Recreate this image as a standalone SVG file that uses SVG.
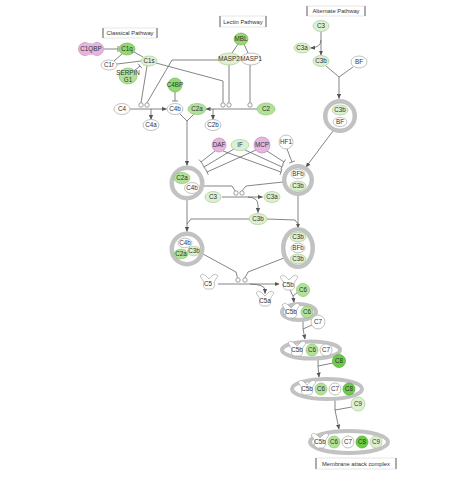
<svg xmlns="http://www.w3.org/2000/svg" width="474" height="477" viewBox="0 0 474 477">
<style>
text{font-family:"Liberation Sans",Arial,sans-serif;font-size:6.3px;fill:#333;text-anchor:middle}
.t{font-size:5.8px}
.ln{stroke:#666;stroke-width:0.8;fill:none}
.ar{stroke:#666;stroke-width:0.8;fill:none;marker-end:url(#ah)}
.cat{fill:#fff;stroke:#777;stroke-width:0.7}
.wh{fill:#fff;stroke:#a8a8a8;stroke-width:0.7}
.g1{fill:#93d870;stroke:#74bc52;stroke-width:0.7}
.g2{fill:#ddf0d3;stroke:#a6cf94;stroke-width:0.7}
.g3{fill:#b2e29a;stroke:#8ac66f;stroke-width:0.7}
.g4{fill:#6ccb47;stroke:#52a934;stroke-width:0.7}
.pk{fill:#e7b6dd;stroke:#c98bbb;stroke-width:0.7}
.ring{fill:#fff;stroke:#c2c2c2;stroke-width:4}
.ringi{fill:none;stroke:#a9a9a9;stroke-width:0.5}
.box{fill:#fff;stroke:#cfcfcf;stroke-width:0.5}
.brk{stroke:#555;stroke-width:0.9}
</style>
<defs>
<marker id="ah" markerWidth="5" markerHeight="5" refX="4.5" refY="2.5" orient="auto" markerUnits="userSpaceOnUse">
<path d="M0,0.4 L5,2.5 L0,4.6 Z" fill="#555"/>
</marker>
<path id="vs" d="M-9,-6 Q-7,-9 -4,-7 L0,-3 L4,-7 Q7,-9 9,-6 L5,0 Q7,5 3,7 L-3,7 Q-7,5 -5,0 Z" fill="#fff" stroke="#a8a8a8" stroke-width="0.7"/>
</defs>

<g id="titles">
<rect class="box" x="103" y="28" width="54" height="10"/><line class="brk" x1="103" y1="28" x2="103" y2="38"/><line class="brk" x1="157" y1="28" x2="157" y2="38"/>
<text class="t" x="130" y="35">Classical Pathway</text>
<rect class="box" x="220" y="16" width="46" height="11"/><line class="brk" x1="220" y1="16" x2="220" y2="27"/><line class="brk" x1="266" y1="16" x2="266" y2="27"/>
<text class="t" x="243" y="23.5">Lectin Pathway</text>
<rect class="box" x="307" y="6" width="58" height="10"/><line class="brk" x1="307" y1="6" x2="307" y2="16"/><line class="brk" x1="365" y1="6" x2="365" y2="16"/>
<text class="t" x="336" y="13">Alternate Pathway</text>
<rect class="box" x="316" y="458" width="80" height="11"/><line class="brk" x1="316" y1="458" x2="316" y2="469"/><line class="brk" x1="396" y1="458" x2="396" y2="469"/>
<text class="t" x="356" y="465.5">Membrane attack complex</text>
</g>

<g id="connectors">
<line class="ln" x1="104" y1="49" x2="118" y2="49"/><line class="ln" x1="118" y1="46" x2="118" y2="52"/>
<line class="ln" x1="134" y1="52" x2="143" y2="57"/>
<line class="ln" x1="122" y1="54" x2="114" y2="61"/>
<line class="ln" x1="117" y1="64" x2="141" y2="61"/>
<line class="ln" x1="134" y1="71" x2="140" y2="66"/><line class="ln" x1="138.1" y1="63.7" x2="141.9" y2="68.3"/>
<line class="ln" x1="147" y1="66" x2="141" y2="102.8"/>
<polyline class="ln" points="218,60 172,60 147,102.8"/>
<polyline class="ln" points="156,63 223,81 223,102.8"/>
<line class="ln" x1="229" y1="65" x2="229" y2="102.8"/>
<line class="ln" x1="250" y1="65" x2="250" y2="102.8"/>
<line class="ln" x1="238" y1="44" x2="232" y2="53"/>
<line class="ln" x1="244" y1="44" x2="248" y2="53"/>
<line class="ar" x1="130" y1="109" x2="166.5" y2="109"/>
<line class="ar" x1="151" y1="109" x2="151" y2="119.5"/>
<line class="ar" x1="257" y1="109" x2="206" y2="109"/>
<line class="ar" x1="213" y1="109" x2="213" y2="119.5"/>
<line class="ln" x1="175" y1="92" x2="175" y2="101"/><line class="ln" x1="172" y1="101" x2="178" y2="101"/>
<polyline class="ln" points="180,114 187,121 194,114"/>
<line class="ar" x1="187" y1="121" x2="187" y2="165.5"/>
<line class="ar" x1="321" y1="31.5" x2="321" y2="55"/>
<path class="ar" d="M321,40 Q321,47.5 310.5,48"/>
<polyline class="ln" points="326,66 339,77 353,67"/>
<line class="ar" x1="339" y1="77" x2="339" y2="98.5"/>
<line class="ar" x1="333" y1="131" x2="306" y2="167"/>
<line class="ln" x1="287" y1="149" x2="292" y2="162"/><line class="ln" x1="289.2" y1="163.1" x2="294.8" y2="160.9"/>
<line class="ln" x1="215" y1="151" x2="201" y2="162"/><line class="ln" x1="199.1" y1="159.6" x2="202.9" y2="164.4"/>
<line class="ln" x1="234" y1="149" x2="204" y2="167"/><line class="ln" x1="202.5" y1="164.4" x2="205.5" y2="169.6"/>
<line class="ln" x1="256" y1="150" x2="207" y2="172"/><line class="ln" x1="205.8" y1="169.3" x2="208.2" y2="174.7"/>
<line class="ln" x1="223" y1="151" x2="281" y2="172"/><line class="ln" x1="282" y1="169.2" x2="280" y2="174.8"/>
<line class="ln" x1="245" y1="150" x2="282" y2="167"/><line class="ln" x1="283.3" y1="164.3" x2="280.7" y2="169.7"/>
<line class="ln" x1="267" y1="151" x2="284" y2="162"/><line class="ln" x1="285.6" y1="159.5" x2="282.4" y2="164.5"/>
<polyline class="ln" points="204,186 232,186 235,190.8"/>
<polyline class="ln" points="283,182 246,186 242,190.8"/>
<line class="ar" x1="222" y1="197" x2="262.5" y2="197"/>
<path class="ar" d="M248,197 Q258,197.5 258,205 L258,212.5"/>
<line class="ar" x1="187" y1="200" x2="187" y2="231.5"/>
<polyline class="ln" points="249,219 191,219 187,224"/>
<line class="ar" x1="298" y1="195" x2="298" y2="228"/>
<polyline class="ln" points="267,219 295,220 298,224"/>
<polyline class="ln" points="203,254 236,272 237.5,277.8"/>
<polyline class="ln" points="284,258 248,272 245,277.8"/>
<line class="ar" x1="218" y1="284" x2="279" y2="284"/>
<path class="ar" d="M250,284 Q265,284.5 265,290 L265,293.5"/>
<polyline class="ln" points="290,290 293,296 298,292"/>
<line class="ar" x1="293" y1="296" x2="294" y2="302.5"/>
<line class="ln" x1="303" y1="321" x2="303" y2="329"/>
<line class="ln" x1="312" y1="325" x2="303" y2="329"/>
<line class="ar" x1="303" y1="329" x2="305" y2="339"/>
<line class="ln" x1="318" y1="360" x2="318" y2="366"/>
<line class="ln" x1="333" y1="363" x2="318" y2="366"/>
<line class="ar" x1="318" y1="366" x2="319" y2="377"/>
<line class="ln" x1="335" y1="400" x2="335" y2="410"/>
<line class="ln" x1="352" y1="407" x2="335" y2="410"/>
<line class="ar" x1="335" y1="410" x2="339" y2="429"/>
<circle class="cat" cx="141" cy="105" r="2.2"/>
<circle class="cat" cx="147" cy="105" r="2.2"/>
<circle class="cat" cx="223" cy="105" r="2.2"/>
<circle class="cat" cx="229" cy="105" r="2.2"/>
<circle class="cat" cx="250" cy="105" r="2.2"/>
<circle class="cat" cx="236" cy="193" r="2.2"/>
<circle class="cat" cx="242" cy="193" r="2.2"/>
<circle class="cat" cx="238" cy="280" r="2.2"/>
<circle class="cat" cx="245" cy="280" r="2.2"/>
</g>

<g id="C1QBP"><circle class="pk" cx="85" cy="49" r="6.5"/><circle class="pk" cx="97" cy="49" r="6.5"/><rect x="85" y="43.2" width="12" height="11.6" fill="#e7b6dd"/><text x="91" y="51.2">C1QBP</text></g>
<g id="C1q"><ellipse class="g1" cx="127" cy="49" rx="8" ry="6"/><text x="127" y="51.2">C1q</text></g>
<g id="C1r"><ellipse class="wh" cx="109" cy="65" rx="8" ry="5"/><text x="109" y="67.2">C1r</text></g>
<g id="C1s"><ellipse class="g2" cx="149" cy="61" rx="8" ry="5"/><text x="149" y="63.2">C1s</text></g>
<g id="SERPING1"><ellipse class="g3" cx="128" cy="76" rx="9" ry="8"/><text x="128" y="74.5">SERPIN</text><text x="128" y="81.5">G1</text></g>
<g id="C4BP"><circle class="g1" cx="175" cy="85" r="7"/><text x="175" y="87.2">C4BP</text></g>
<g id="C4"><ellipse class="wh" cx="122" cy="109" rx="8" ry="5.5"/><text x="122" y="111.2">C4</text></g>
<g id="C4b"><ellipse class="wh" cx="175" cy="109" rx="8" ry="5.5"/><text x="175" y="111.2">C4b</text></g>
<g id="C2a"><ellipse class="g3" cx="197" cy="109" rx="9" ry="5.5"/><text x="197" y="111.2">C2a</text></g>
<g id="C2"><ellipse class="g3" cx="266" cy="109" rx="9" ry="6"/><text x="266" y="111.2">C2</text></g>
<g id="C4a"><ellipse class="wh" cx="151" cy="125" rx="8" ry="5.5"/><text x="151" y="127.2">C4a</text></g>
<g id="C2b"><ellipse class="wh" cx="213" cy="125" rx="8" ry="5.5"/><text x="213" y="127.2">C2b</text></g>
<g id="MBL"><ellipse class="g1" cx="241" cy="39" rx="7" ry="6"/><text x="241" y="41.2">MBL</text></g>
<g id="MASP"><ellipse class="wh" cx="251" cy="59" rx="10" ry="6"/><ellipse class="g2" cx="229" cy="59" rx="11" ry="6"/><text x="229" y="61.2">MASP2</text><text x="251" y="61.2">MASP1</text></g>
<g id="C3top"><ellipse class="g2" cx="321" cy="26" rx="8" ry="5.5"/><text x="321" y="28.2">C3</text></g>
<g id="C3a_top"><ellipse class="g2" cx="302" cy="48" rx="8" ry="5"/><text x="302" y="50.2">C3a</text></g>
<g id="C3b_top"><ellipse class="g2" cx="321" cy="61" rx="8" ry="5.5"/><text x="321" y="63.2">C3b</text></g>
<g id="BF"><ellipse class="wh" cx="359" cy="62" rx="8" ry="6"/><text x="359" y="64.2">BF</text></g>
<g id="C3bBF"><circle class="ring" cx="340" cy="116" r="15"/><circle class="ringi" cx="340" cy="116" r="13"/><ellipse class="g2" cx="340" cy="110" rx="8" ry="5"/><text x="340" y="112.2">C3b</text><ellipse class="wh" cx="340" cy="122" rx="7" ry="4.5"/><text x="340" y="124.2">BF</text></g>
<g id="DAF"><circle class="pk" cx="219" cy="145" r="7"/><text x="219" y="147.2">DAF</text></g>
<g id="IF"><ellipse class="g2" cx="240" cy="145" rx="9" ry="5.5"/><text x="240" y="147.2">IF</text></g>
<g id="MCP"><circle class="pk" cx="262" cy="145" r="8"/><text x="262" y="147.2">MCP</text></g>
<g id="HF1"><circle class="wh" cx="286" cy="142" r="7"/><text x="286" y="144.2">HF1</text></g>
<g id="C2aC4b"><circle class="ring" cx="187" cy="183" r="15.5"/><circle class="ringi" cx="187" cy="183" r="13.5"/><ellipse class="g3" cx="182" cy="178" rx="8" ry="5.5"/><text x="182" y="180.2">C2a</text><ellipse class="wh" cx="192" cy="188" rx="7.5" ry="5.5"/><text x="192" y="190.2">C4b</text></g>
<g id="BFbC3b"><circle class="ring" cx="298" cy="180" r="14"/><circle class="ringi" cx="298" cy="180" r="12"/><ellipse class="wh" cx="298" cy="174" rx="7" ry="4.8"/><text x="298" y="176.2">BFb</text><ellipse class="g2" cx="298" cy="186" rx="8" ry="4.8"/><text x="298" y="188.2">C3b</text></g>
<g id="C3mid"><ellipse class="g2" cx="213" cy="197" rx="8" ry="5.5"/><text x="213" y="199.2">C3</text></g>
<g id="C3a_mid"><ellipse class="g2" cx="272" cy="197" rx="8" ry="5.5"/><text x="272" y="199.2">C3a</text></g>
<g id="C3b_mid"><ellipse class="g2" cx="258" cy="219" rx="9" ry="5.5"/><text x="258" y="221.2">C3b</text></g>
<g id="C4bC2aC3b"><circle class="ring" cx="187" cy="249" r="15.5"/><circle class="ringi" cx="187" cy="249" r="13.5"/><ellipse class="wh" cx="185" cy="243" rx="7" ry="4.8"/><text x="185" y="245.2">C4b</text><ellipse class="g3" cx="181" cy="254" rx="7" ry="4.8"/><text x="181" y="256.2">C2a</text><ellipse class="g2" cx="194" cy="251" rx="6.5" ry="4.8"/><text x="194" y="253.2">C3b</text></g>
<g id="C3bBFbC3b"><ellipse class="ring" cx="298" cy="248" rx="15" ry="19"/><ellipse class="ringi" cx="298" cy="248" rx="13" ry="17"/><ellipse class="g2" cx="298" cy="237" rx="8" ry="4.8"/><text x="298" y="239.2">C3b</text><ellipse class="wh" cx="298" cy="248" rx="7" ry="4.8"/><text x="298" y="250.2">BFb</text><ellipse class="g2" cx="298" cy="259" rx="8" ry="4.8"/><text x="298" y="261.2">C3b</text></g>
<g id="C5"><use href="#vs" x="209" y="282"/><text x="208" y="285.5">C5</text></g>
<g id="C5b"><use href="#vs" x="289" y="283"/><text x="288" y="286.5">C5b</text></g>
<g id="C5a"><use href="#vs" x="265" y="299"/><text x="265" y="302.5">C5a</text></g>
<g id="C6"><circle class="g3" cx="303" cy="290" r="6.5"/><text x="303" y="292.2">C6</text></g>
<g id="C5bC6"><ellipse class="ring" cx="299" cy="312" rx="17" ry="8"/><use href="#vs" x="291" y="311"/><text x="291" y="314">C5b</text><circle class="g3" cx="307" cy="312" r="6"/><text x="307" y="314.2">C6</text></g>
<g id="C7"><circle class="wh" cx="318" cy="322" r="7"/><text x="318" y="324.2">C7</text></g>
<g id="C5bC6C7"><ellipse class="ring" cx="311" cy="350" rx="29" ry="8.5"/><use href="#vs" x="297" y="349"/><text x="297" y="352">C5b</text><circle class="g3" cx="312" cy="350" r="6"/><text x="312" y="352.2">C6</text><circle class="wh" cx="326" cy="350" r="6"/><text x="326" y="352.2">C7</text></g>
<g id="C8"><circle class="g4" cx="339" cy="361" r="6.5"/><text x="339" y="363.2">C8</text></g>
<g id="C5bC6C7C8"><ellipse class="ring" cx="327" cy="389" rx="35" ry="10"/><use href="#vs" x="307" y="388"/><text x="307" y="391">C5b</text><circle class="g3" cx="321" cy="389" r="6"/><text x="321" y="391.2">C6</text><circle class="wh" cx="335" cy="389" r="6"/><text x="335" y="391.2">C7</text><circle class="g4" cx="349" cy="389" r="6"/><text x="349" y="391.2">C8</text></g>
<g id="C9"><circle class="g2" cx="358" cy="404" r="7"/><text x="358" y="406.2">C9</text></g>
<g id="MAC"><ellipse class="ring" cx="349" cy="442" rx="39" ry="11"/><use href="#vs" x="320" y="441"/><text x="320" y="444">C5b</text><circle class="g3" cx="334" cy="442" r="6"/><text x="334" y="444.2">C6</text><circle class="wh" cx="348" cy="442" r="6"/><text x="348" y="444.2">C7</text><circle class="g4" cx="362" cy="442" r="6"/><text x="362" y="444.2">C8</text><circle class="g2" cx="376" cy="442" r="6"/><text x="376" y="444.2">C9</text></g>
</svg>
